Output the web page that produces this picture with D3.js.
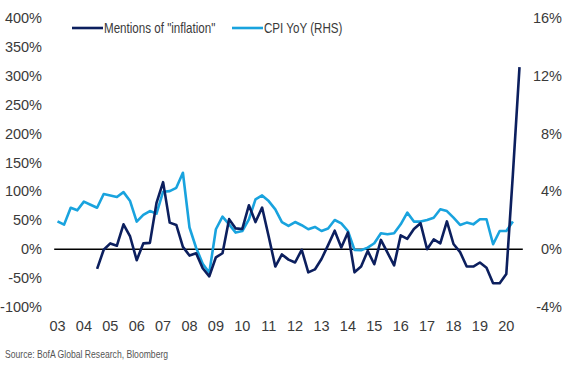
<!DOCTYPE html>
<html><head><meta charset="utf-8">
<script src="https://cdn.jsdelivr.net/npm/d3@7"></script>
<style>
body{margin:0;background:#fff;}
svg text{font-family:"Liberation Sans",Arial,sans-serif;fill:#3a3a3a;}
</style></head>
<body><svg id="c" width="567" height="365"></svg>
<script>
// quarterly observations, index 0 = first quarter of 2003
const yearLabels = ["03","04","05","06","07","08","09","10","11","12","13","14","15","16","17","18","19","20"];
const leftTicks = [-100,-50,0,50,100,150,200,250,300,350,400];
const rightTicks = [-4,0,4,8,12,16];
const mentions = [null,null,null,null,null,null,-34,-1,10,6,43,22,-19,10,11,80,116,46,42,4,-11,-7,-33,-47,-14,-7,52,36,35,76,47,72,22,-30,-9,-18,-23,-1,-40,-35,-17,7,32,3,29,-40,-30,-3,-26,16,-6,-28,24,18,35,45,0,17,10,48,9,-5,-30,-30,-23,-32,-59,-59,-43,130,315];
const cpi = [1.93,1.70,2.87,2.69,3.29,3.08,2.87,3.82,3.72,3.61,3.95,3.33,1.91,2.37,2.64,2.46,3.98,4.02,4.25,5.29,1.5,0.1,-1.0,-1.63,1.38,2.25,1.72,1.15,1.26,2.07,3.45,3.72,3.33,2.76,1.88,1.61,1.88,1.66,1.38,1.54,1.26,1.43,2.02,1.79,1.26,-0.05,-0.07,0.11,0.41,1.10,1.03,1.10,1.72,2.53,1.91,1.91,2.02,2.18,2.76,2.64,2.18,1.68,1.84,1.72,2.07,2.07,0.34,1.26,1.26,1.91];
const seriesNames = ['Mentions of "inflation"', 'CPI YoY (RHS)'];
const colors = ["#0c1f5e", "#19a3de"];

const svg = d3.select("#c");
const x = d3.scaleLinear().domain([0, 70]).range([57.5, 519.5]);
const yL = d3.scaleLinear().domain([-100, 400]).range([307, 18]);
const yR = d3.scaleLinear().domain([-4, 16]).range([307, 18]);

// left axis labels
svg.append("g").selectAll("text").data(leftTicks).join("text")
  .attr("x", 42).attr("y", d => yL(d)).attr("dy", "0.35em")
  .attr("text-anchor", "end").attr("font-size", 14.5)
  .text(d => d + "%");
// right axis labels
svg.append("g").selectAll("text").data(rightTicks).join("text")
  .attr("x", 562).attr("y", d => yR(d)).attr("dy", "0.35em")
  .attr("text-anchor", "end").attr("font-size", 14.5)
  .text(d => d + "%");
// x labels
svg.append("g").selectAll("text").data(yearLabels).join("text")
  .attr("x", (d, i) => x(i * 4)).attr("y", 331)
  .attr("text-anchor", "middle").attr("font-size", 14.5)
  .text(d => d);

// zero line
svg.append("line")
  .attr("x1", x(-0.5)).attr("x2", x(70.5))
  .attr("y1", yL(0)).attr("y2", yL(0))
  .attr("stroke", "#000").attr("stroke-width", 1.5);

const lineL = d3.line().defined(d => d != null).x((d, i) => x(i)).y(d => yL(d));
const lineR = d3.line().x((d, i) => x(i)).y(d => yR(d));

svg.append("path").attr("d", lineR(cpi)).attr("fill", "none")
  .attr("stroke", colors[1]).attr("stroke-width", 2.6).attr("stroke-linejoin", "round");
svg.append("path").attr("d", lineL(mentions)).attr("fill", "none")
  .attr("stroke", colors[0]).attr("stroke-width", 2.6).attr("stroke-linejoin", "round");

// legend (condensed text)
const leg = [{x: 72, w: 31}, {x: 232, w: 31}];
leg.forEach((l, i) => {
  svg.append("line").attr("x1", l.x).attr("x2", l.x + l.w).attr("y1", 28).attr("y2", 28)
    .attr("stroke", colors[i]).attr("stroke-width", 2.6);
  svg.append("g").attr("transform", `translate(${l.x + l.w + 1},28) scale(0.8,1)`)
    .append("text").attr("dy", "0.35em").attr("font-size", 14.5).text(seriesNames[i]);
});

// source
svg.append("g").attr("transform", "translate(5,358) scale(0.82,1)")
  .append("text").attr("font-size", 10.5)
  .style("fill", "#555").text("Source:  BofA Global Research, Bloomberg");
</script></body></html>
